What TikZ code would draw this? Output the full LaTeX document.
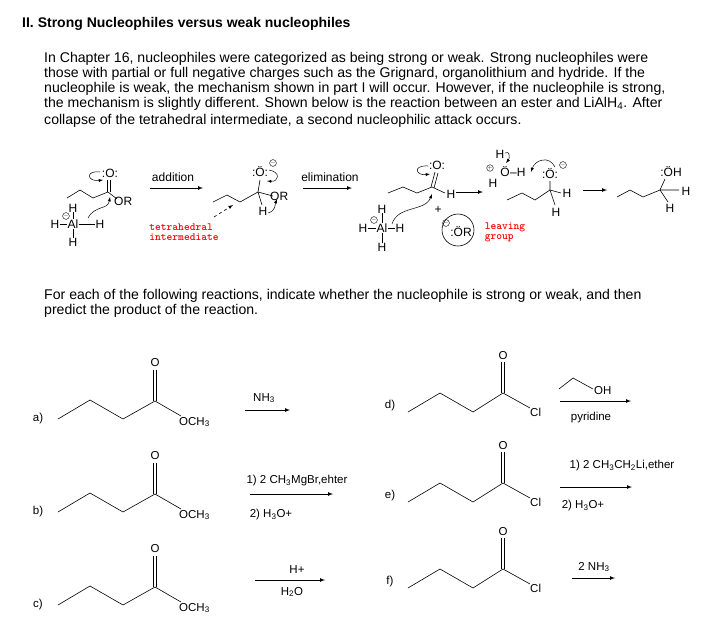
\documentclass[tikz,border=0pt]{standalone}
\usepackage{fontspec}
\setmainfont{Liberation Sans}
\begin{document}
\begin{tikzpicture}[x=1pt,y=-1pt,
  txt/.style={anchor=base west,inner sep=0,font=\fontsize{14.1}{16}\selectfont},
  lab/.style={inner sep=0,font=\fontsize{12}{13}\selectfont},
  small/.style={inner sep=0,font=\fontsize{11.5}{13}\selectfont},
  bond/.style={line width=0.6pt},
  rxn/.style={-latex,line width=0.7pt},
  chg/.style={circle,draw,inner sep=0,minimum size=5.5pt,line width=0.4pt,font=\fontsize{5}{5}\selectfont},
  red/.style={text=red,inner sep=0,font=\fontsize{11}{10}\selectfont\ttfamily\bfseries}]
\useasboundingbox (0,0) rectangle (707,633);
\node[txt,font=\fontsize{14}{16}\selectfont\bfseries] (title) at (22,27) {II. Strong Nucleophiles versus weak nucleophiles};
\node[txt] (p1) at (44,62) {In Chapter 16, nucleophiles were categorized as being strong or weak. Strong nucleophiles were};
\node[txt] (p2) at (44,77) {those with partial or full negative charges such as the Grignard, organolithium and hydride. If the};
\node[txt] (p3) at (44,92) {nucleophile is weak, the mechanism shown in part I will occur. However, if the nucleophile is strong,};
\node[txt] (p4) at (44,107) {the mechanism is slightly different. Shown below is the reaction between an ester and LiAlH\textsubscript{4}. After};
\node[txt] (p5) at (44,124) {collapse of the tetrahedral intermediate, a second nucleophilic attack occurs.};
\node[txt] (q1) at (44,299) {For each of the following reactions, indicate whether the nucleophile is strong or weak, and then};
\node[txt] (q2) at (44,314) {predict the product of the reaction.};

% ---- mechanism ----
% ester
\draw[bond] (67,198)--(80,190)--(93,198)--(108,192)--(117,199);
\draw[bond] (107,192)--(107,180) (110,192)--(110,180);
\node[lab] (o1) at (110,173) {:O:};
\node[lab,anchor=west] (or1) at (114,201) {OR};
\node[lab] (al1) at (73,224) {Al};
\node[lab] (h1a) at (73,208) {H}; \node[lab] (h1b) at (55,224) {H};
\node[lab] (h1c) at (100,224) {H}; \node[lab] (h1d) at (73,242) {H};
\node[chg] at (66,216) {$-$};
\draw[bond] (h1a)--(al1) (h1b)--(al1) (al1)--(h1c) (al1)--(h1d);
\draw[-latex,line width=0.5pt] (88,218) .. controls (95,205) and (108,210) .. (110,197);
\draw[-latex,line width=0.5pt] (100,172) .. controls (85,170) and (87,182) .. (103,180);
\node[lab] (add) at (173,177) {addition};
\draw[rxn] (150,188)--(203,188);
% tetrahedral
\draw[bond] (213,202)--(227,195)--(240,202)--(258,192)--(273,196);
\draw[bond] (258,192)--(260,180) (258,192)--(262,205);
\node[lab] (o2) at (260,172) {:Ö:};
\node[chg] at (273,163) {$-$};
\node[lab,anchor=west] (or2) at (270,196) {OR};
\node[lab] (h2) at (263,211) {H};
\draw[-latex,line width=0.5pt] (269,170) .. controls (281,172) and (279,182) .. (267,181);
\draw[-latex,line width=0.5pt] (268,213) .. controls (276,211) and (275,204) .. (277,199);
\node[red,align=left] (tet) at (184,232) {tetrahedral\\intermediate};
\draw[-latex,red,dashed,line width=0.6pt] (214,217)--(233,205);
\node[lab] (elim) at (330,177) {elimination};
\draw[rxn] (303,188)--(352,188);
% aldehyde
\draw[bond] (388,193)--(403,187)--(417,193)--(432,187)--(445,193);
\draw[bond] (431,187)--(435,172) (434,188)--(438,173);
\node[lab] (o3) at (437,165) {:O:};
\node[lab] (h3) at (451,194) {H};
\draw[-latex,line width=0.5pt] (428,166) .. controls (412,165) and (416,176) .. (430,174);
\node[lab] (al2) at (382,228) {Al};
\node[lab] (h4a) at (382,209) {H}; \node[lab] (h4b) at (363,228) {H};
\node[lab] (h4c) at (400,228) {H}; \node[lab] (h4d) at (382,247) {H};
\node[chg] at (374,220) {$-$};
\draw[bond] (h4a)--(al2) (h4b)--(al2) (al2)--(h4c) (al2)--(h4d);
\draw[-latex,line width=0.5pt] (392,224) .. controls (398,205) and (425,212) .. (432,194);
\node[lab] (plus) at (438,210) {+};
\draw[red,line width=0.6pt] (458,230) circle (16);
\node[lab] (or3) at (461,232) {:ÖR};
\node[chg] at (446,223) {$-$};
\node[red,align=left] (lg) at (505,232) {leaving\\group};
\draw[rxn] (456,192)--(483,192);
% H3O+
\node[lab] (ox) at (505,172) {Ö};
\node[lab] (hx1) at (500,154) {H};
\node[lab] (hx2) at (493,183) {H};
\node[lab,anchor=west] (hx3) at (510,172) {–H};
\node[chg] at (490,168) {$+$};
\draw[-latex,line width=0.5pt] (505,153) .. controls (510,150) and (510,158) .. (506,163);
\draw[-latex,line width=0.5pt] (555,167) .. controls (549,155) and (535,160) .. (531,172);
% alkoxide
\draw[bond] (507,200)--(522,193)--(535,200)--(550,190)--(561,193);
\draw[bond] (550,190)--(550,181) (550,190)--(555,205);
\node[lab] (o4) at (550,174) {:Ö:};
\node[chg] at (563,165) {$-$};
\node[lab] (h5a) at (567,193) {H};
\node[lab] (h5b) at (556,212) {H};
\draw[rxn] (583,190)--(607,190);
% alcohol
\draw[bond] (617,197)--(630,190)--(643,197)--(660,190)--(679,190);
\draw[bond] (660,190)--(665,179) (660,190)--(668,202);
\node[lab] (oh) at (671,172) {:ÖH};
\node[lab] (h6a) at (686,191) {H};
\node[lab] (h6b) at (670,208) {H};

% ---- problems ----
\foreach \n/\dy in {a/0,b/93,c/186}{
  \begin{scope}[yshift=-\dy]
  \node[small] (l\n) at (38,419) {\n)};
  \draw[bond] (58,419)--(90,400)--(123,419)--(155,401)--(181,416);
  \draw[bond] (153.6,401)--(153.6,370) (156.4,401)--(156.4,370);
  \node[small] (o\n) at (155,363) {O};
  \node[small,anchor=west] (m\n) at (179,422) {OCH\textsubscript{3}};
  \end{scope}}
\foreach \n/\dy in {d/0,e/90,f/176}{
  \begin{scope}[yshift=-\dy]
  \node[small] (l\n) at (390,406) {\n)};
  \draw[bond] (408,412)--(440,393)--(473,412)--(503,393)--(530,408);
  \draw[bond] (501.6,393)--(501.6,362) (504.4,393)--(504.4,362);
  \node[small] (o\n) at (503,356) {O};
  \node[small,anchor=west] (cl\n) at (530,412) {Cl};
  \end{scope}}
% a
\node[small] (nh3) at (264,398) {NH\textsubscript{3}};
\draw[rxn] (245,410)--(290,410);
% b
\node[small] (b1) at (297,481) {1) 2 CH\textsubscript{3}MgBr,ehter};
\draw[rxn] (250,494)--(333,494);
\node[small] (b2) at (271,515) {2) H\textsubscript{3}O+};
% c
\node[small] (c1) at (297,570) {H+};
\draw[rxn] (255,580)--(325,580);
\node[small] (c2) at (292,592) {H\textsubscript{2}O};
% d
\draw[bond] (559,389)--(573,378)--(593,389);
\node[small,anchor=west] (etoh) at (594,391) {OH};
\draw[rxn] (560,401)--(631,401);
\node[small] (pyr) at (591,418) {pyridine};
% e
\node[small] (e1) at (622,466) {1) 2 CH\textsubscript{3}CH\textsubscript{2}Li,ether};
\draw[rxn] (560,487)--(632,487);
\node[small] (e2) at (583,506) {2) H\textsubscript{3}O+};
% f
\node[small] (f1) at (594,567) {2 NH\textsubscript{3}};
\draw[rxn] (572,578)--(615,578);
\end{tikzpicture}
\end{document}
